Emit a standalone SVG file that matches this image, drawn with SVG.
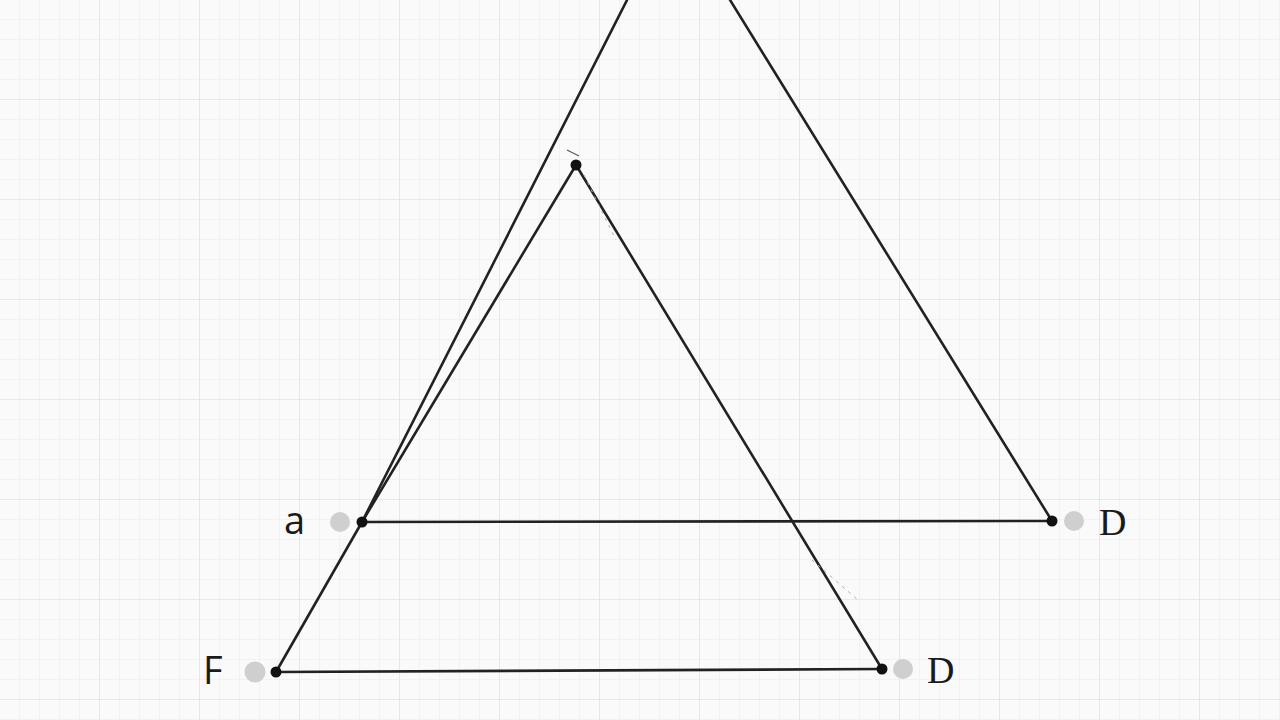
<svg xmlns="http://www.w3.org/2000/svg" width="1280" height="720" viewBox="0 0 1280 720">
  <defs>
    <pattern id="minor" width="20" height="20" patternUnits="userSpaceOnUse">
      <path d="M20 0V20M0 20H20" fill="none" stroke="#ebebeb" stroke-width="1"/>
    </pattern>
    <pattern id="major" width="100" height="100" patternUnits="userSpaceOnUse">
      <path d="M100 0V100M0 100H100" fill="none" stroke="#e0e0e0" stroke-width="1.2"/>
    </pattern>
  </defs>
  <style>
    .edge { stroke: #222; stroke-width: 2.6; fill: none; stroke-linecap: round; stroke-linejoin: round; }
    .faint { stroke: #aaa; stroke-width: 1; fill: none; stroke-dasharray: 3 5; }
    .dot { fill: #111; }
    .ghost { fill: #cfcfcf; }
    .sans { font-family: "Open Sans", "Noto Sans", sans-serif; font-size: 38px; fill: #1a1a1a; }
    .serif { font-family: "Liberation Serif", "DejaVu Serif", serif; font-size: 38px; fill: #1a1a1a; }
  </style>
  <rect width="1280" height="720" fill="#fafafa"/>
  <rect width="1280" height="720" fill="url(#minor)"/>
  <rect width="1280" height="720" fill="url(#major)"/>

  <g id="connectors">
    <polyline class="edge" points="276,672 362,522 673.5,-91.5 1052,521"/>
    <line class="edge" x1="362" y1="522" x2="1052" y2="521"/>
    <line class="edge" x1="276" y1="672" x2="882" y2="669"/>
    <polyline class="edge" points="362,522 576,165 882,669"/>
    <line class="faint" x1="584" y1="175" x2="616" y2="240"/>
    <line class="faint" x1="812" y1="560" x2="858" y2="600"/>
    <line stroke="#555" stroke-width="1.2" x1="567" y1="150" x2="579" y2="156"/>
  </g>

  <g id="node-apex">
    <circle class="dot" cx="576" cy="165" r="5.5"/>
  </g>
  <g id="node-a">
    <circle class="ghost" cx="340" cy="522" r="10"/>
    <circle class="dot" cx="362" cy="522" r="5.5"/>
    <text class="sans" x="284" y="534">a</text>
  </g>
  <g id="node-D-top">
    <circle class="ghost" cx="1074" cy="521" r="10"/>
    <circle class="dot" cx="1052" cy="521" r="5.5"/>
    <text class="serif" x="1099" y="535">D</text>
  </g>
  <g id="node-F">
    <circle class="ghost" cx="255" cy="672" r="10.5"/>
    <circle class="dot" cx="276" cy="672" r="5.5"/>
    <text class="sans" x="203" y="684">F</text>
  </g>
  <g id="node-D-bottom">
    <circle class="ghost" cx="903" cy="669" r="10"/>
    <circle class="dot" cx="882" cy="669" r="5.5"/>
    <text class="serif" x="927" y="683">D</text>
  </g>
</svg>
